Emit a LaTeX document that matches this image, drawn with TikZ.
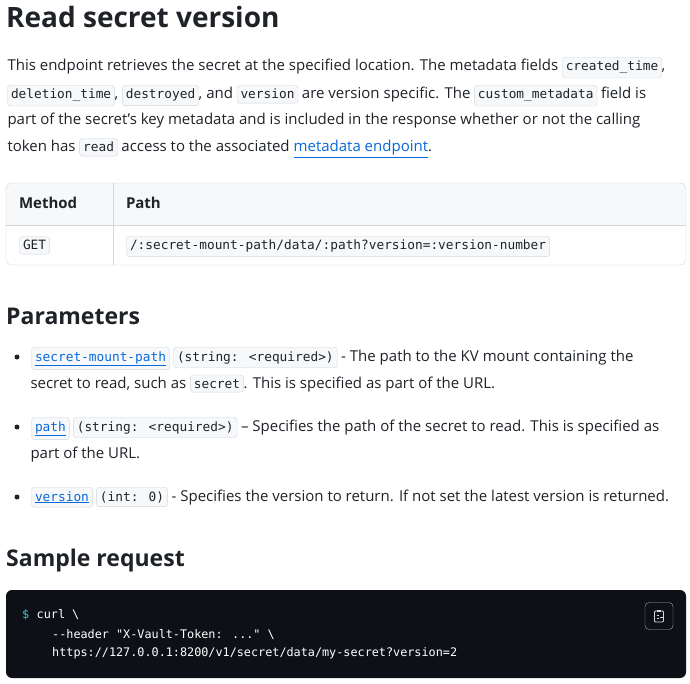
\documentclass[tikz,border=0pt]{standalone}
\usepackage{fontspec}
\setmainfont{Open Sans}
\newfontfamily\codef{DejaVu Sans Mono}
\definecolor{ink}{HTML}{1F2328}
\definecolor{cbg}{HTML}{F6F8FA}
\definecolor{cbd}{HTML}{D0D7DE}
\definecolor{lnk}{HTML}{0969DA}
\definecolor{dark}{HTML}{0D1117}
\definecolor{cyn}{HTML}{39C5CF}
\tikzset{
 txt/.style={inner sep=0pt,outer sep=0pt,text=ink,font=\fontsize{15}{18}\selectfont},
 cde/.style={draw=cbd,fill=cbg,rounded corners=3pt,inner xsep=3.5pt,inner ysep=4pt,outer sep=0pt,text=ink,font=\codef\fontsize{12.8}{14}\selectfont},
 lcde/.style={cde,text=lnk},
 head/.style={inner sep=0pt,anchor=base west,text=ink,font=\bfseries\fontsize{#1}{#1}\selectfont},
 start/.style={inner sep=0pt,outer sep=0pt},
 bul/.style={circle,fill=ink,inner sep=0pt,minimum size=5pt},
 dcode/.style={inner sep=0pt,anchor=base west,text=white,font=\codef\fontsize{11.8}{14}\selectfont}
}
\newcommand\tx[3]{\node[txt,anchor=base west] (#1) at (#2.base east) {#3};}
\newcommand\cd[3]{\node[cde,anchor=base west] (#1) at ([xshift=4pt]#2.base east) {#3};}
\newcommand\lcd[3]{\node[lcde,anchor=base west] (#1) at ([xshift=4pt]#2.base east) {\underline{#3}};}
\newcommand\txs[3]{\node[txt,anchor=base west] (#1) at ([xshift=4pt]#2.base east) {#3};}
\begin{document}
\begin{tikzpicture}[x=1pt,y=-1pt]
\useasboundingbox[fill=white] (0,0) rectangle (690,684);
\node[head=28] (title) at (6,28) {Read secret version};
% paragraph
\node[start] (a0) at (7,71) {};
\tx{a1}{a0}{This endpoint retrieves the secret at the specified location. The metadata fields}
\cd{a2}{a1}{created\_time}
\tx{a3}{a2}{,}
\node[start] (b0) at (3,99) {};
\cd{b1}{b0}{deletion\_time}
\tx{b2}{b1}{,}
\cd{b3}{b2}{destroyed}
\tx{b4}{b3}{, and}
\cd{b5}{b4}{version}
\txs{b6}{b5}{are version specific. The}
\cd{b7}{b6}{custom\_metadata}
\txs{b8}{b7}{field is}
\node[start] (c0) at (7,125) {};
\tx{c1}{c0}{part of the secret's key metadata and is included in the response whether or not the calling}
\node[start] (d0) at (7,152) {};
\tx{d1}{d0}{token has}
\cd{d2}{d1}{read}
\txs{d3}{d2}{access to the associated}
\node[txt,anchor=base west,text=lnk] (d4) at ([xshift=4pt]d3.base east) {\underline{metadata endpoint}};
\tx{d5}{d4}{.}
% table
\fill[cbg,rounded corners=6pt] (6,183) rectangle (686,225);
\fill[cbg] (6,215) rectangle (686,225);
\draw[cbd] (6,225) -- (686,225) (113,183) -- (113,265);
\draw[cbd,rounded corners=6pt] (6,183) rectangle (686,265);
\node[txt,anchor=base west,font=\bfseries\fontsize{15}{18}\selectfont] (th1) at (19,209) {Method};
\node[txt,anchor=base west,font=\bfseries\fontsize{15}{18}\selectfont] (th2) at (126,209) {Path};
\node[start] (r0) at (15,250) {};
\cd{r1}{r0}{GET}
\node[start] (r2) at (122,250) {};
\cd{r3}{r2}{/:secret-mount-path/data/:path?version=:version-number}
% parameters
\node[head=23] (params) at (6,324) {Parameters};
\node[bul] (u1) at (17,357) {};
\node[start] (e0) at (27,361) {};
\lcd{e1}{e0}{secret-mount-path}
\cd{e2}{e1}{(string: <required>)}
\txs{e3}{e2}{- The path to the KV mount containing the}
\node[start] (f0) at (30,388) {};
\tx{f1}{f0}{secret to read, such as}
\cd{f2}{f1}{secret}
\tx{f3}{f2}{. This is specified as part of the URL.}
\node[bul] (u2) at (17,427) {};
\node[start] (g0) at (27,431) {};
\lcd{g1}{g0}{path}
\cd{g2}{g1}{(string: <required>)}
\txs{g3}{g2}{– Specifies the path of the secret to read. This is specified as}
\node[start] (h0) at (30,458) {};
\tx{h1}{h0}{part of the URL.}
\node[bul] (u3) at (17,497) {};
\node[start] (k0) at (27,501) {};
\lcd{k1}{k0}{version}
\cd{k2}{k1}{(int: 0)}
\txs{k3}{k2}{- Specifies the version to return. If not set the latest version is returned.}
% sample
\node[head=23] (sample) at (6,566) {Sample request};
\fill[dark,rounded corners=6pt] (6,590) rectangle (686,678);
\node[dcode,text=cyn] (s1) at (22,618) {\$};
\node[dcode] (s2) at ([xshift=7pt]s1.base east) {curl \textbackslash};
\node[dcode] (s3) at (52,638) {--header "X-Vault-Token: ..." \textbackslash};
\node[dcode] (s4) at (52,656) {https://127.0.0.1:8200/v1/secret/data/my-secret?version=2};
\node[draw=gray!70,fill=dark,rounded corners=4pt,minimum width=28pt,minimum height=27pt] (copy) at (659,616) {};
\draw[white!85!black,line width=0.9pt,rounded corners=1pt] (654.5,611) rectangle (663.5,622);
\fill[white!85!black] (657,609.5) rectangle (661,612);
\draw[white!85!black,line width=0.7pt] (656.5,615) -- (659,615) (656.5,618) -- (659,618) (660,617) -- (663.5,617);
\end{tikzpicture}
\end{document}
